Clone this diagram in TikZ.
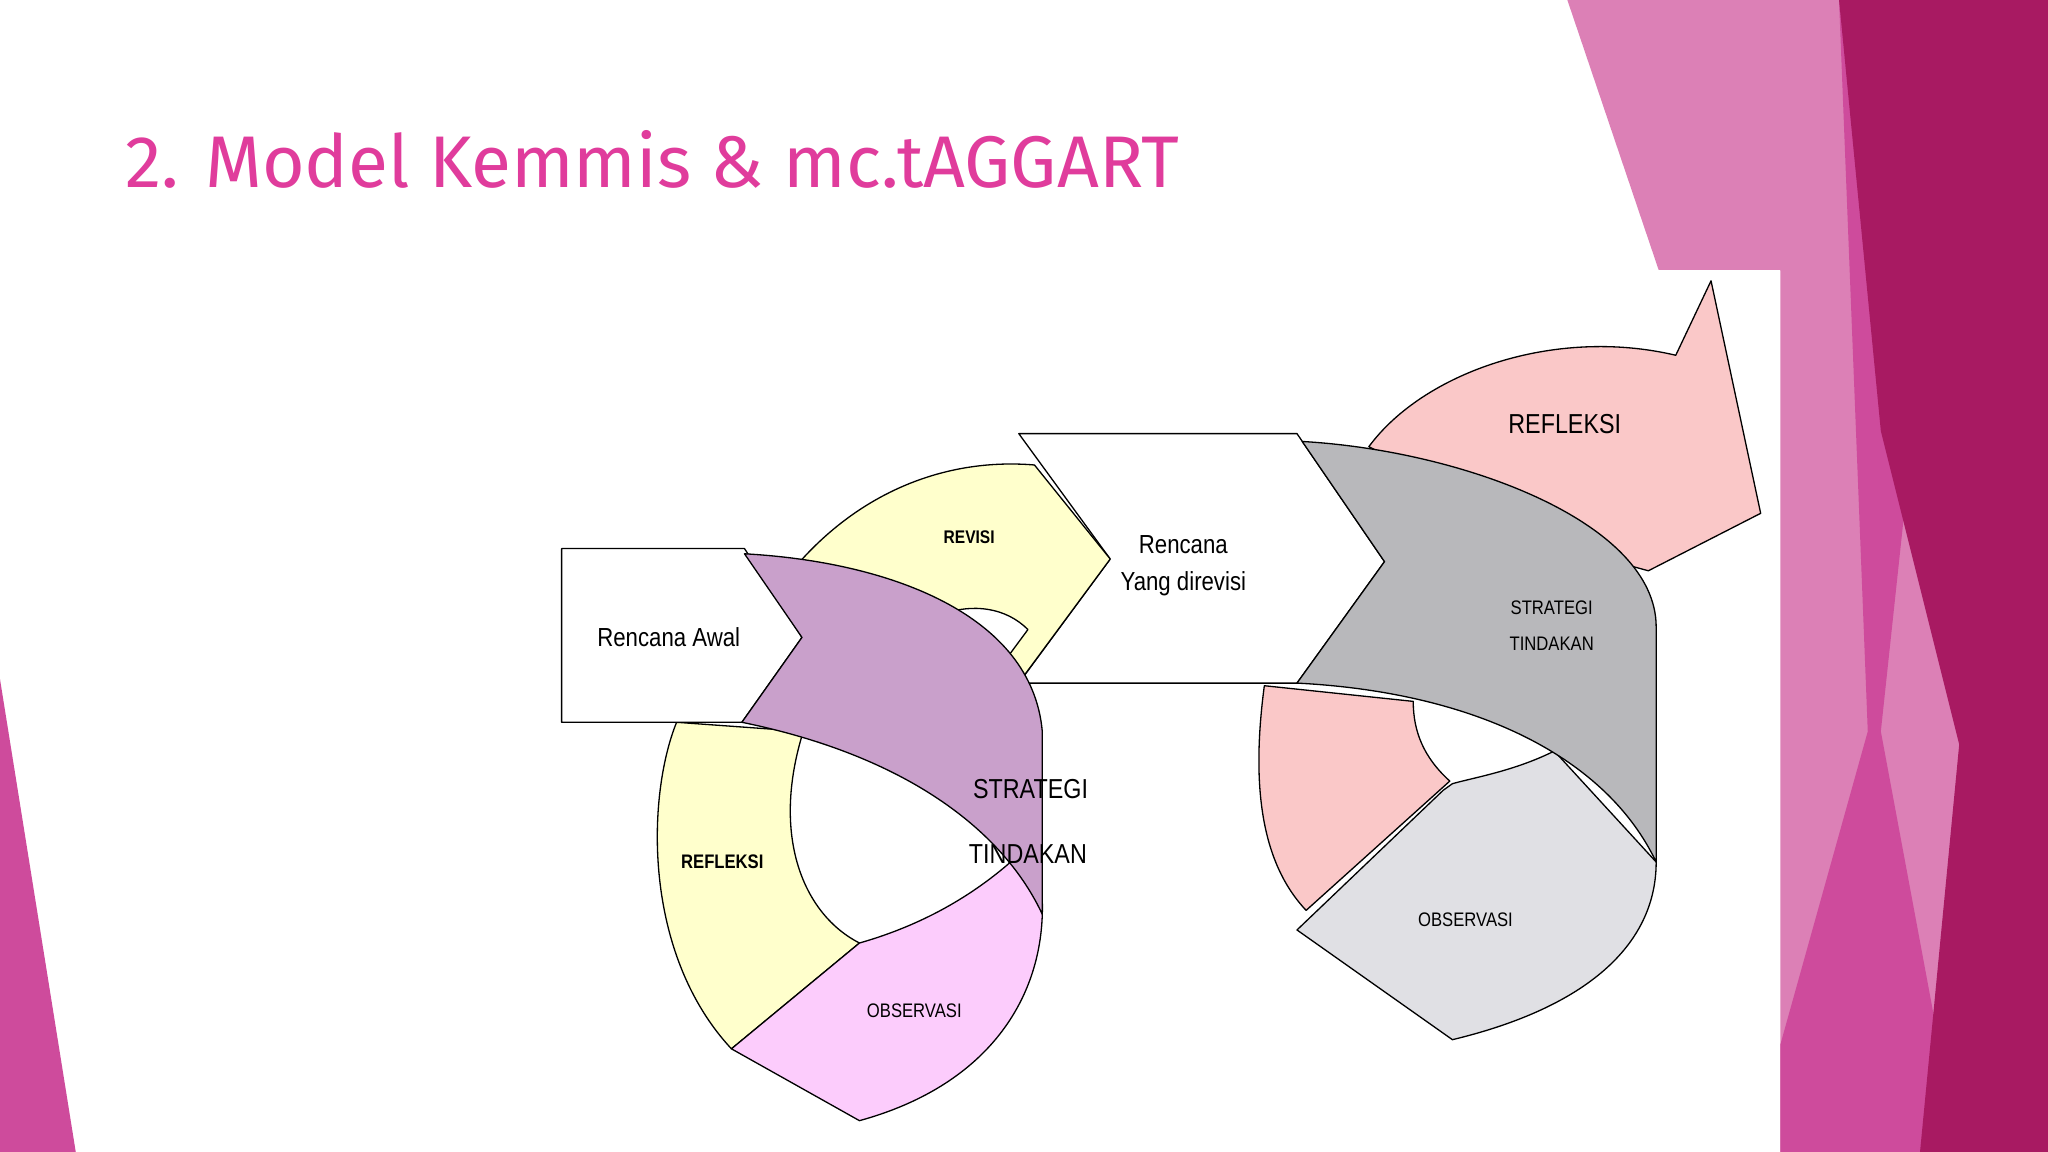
\documentclass[tikz,border=0pt]{standalone}
\usepackage{fontspec}
\setmainfont{Liberation Sans}
\newfontfamily\titlefont{Fira Sans}
\begin{document}
\begin{tikzpicture}[x=1pt,y=-1pt,
  shp/.style={draw=black,line width=1pt,line join=round},
  lbl/.style={font=\fontsize{15}{17}\selectfont,xscale=0.85,transform shape,inner sep=0},
  big/.style={font=\fontsize{21}{26}\selectfont,xscale=0.85,transform shape,inner sep=0}]
\definecolor{ttl}{HTML}{E03C9C}
\definecolor{lp}{HTML}{DC80B6}
\definecolor{mp}{HTML}{CE4B9C}
\definecolor{dp}{HTML}{A81A62}
\definecolor{yel}{HTML}{FFFFCC}
\definecolor{pur}{HTML}{C9A0CB}
\definecolor{pnk}{HTML}{FCCCFC}
\definecolor{salm}{HTML}{FAC8C8}
\definecolor{gry}{HTML}{B8B8BB}
\definecolor{lgry}{HTML}{E0E0E4}
\useasboundingbox (0,0) rectangle (1568,882);
\fill[white] (0,0) rectangle (1568,882);
% background decoration
\fill[lp] (1200,0) -- (1568,0) -- (1568,882) -- (1363,882) -- (1363,207) -- (1270,207) -- cycle;
\fill[mp] (1408,0) -- (1500,0) -- (1440,560) -- (1500,882) -- (1363,882) -- (1363,800) -- (1430,560) -- cycle;
\fill[dp] (1408,0) -- (1568,0) -- (1568,882) -- (1470,882) -- (1500,570) -- (1440,330) -- cycle;
\fill[mp] (0,520) -- (58,882) -- (0,882) -- cycle;
\fill[white] (1240,207) rectangle (1363,882);
\node[anchor=west,text=ttl,font=\titlefont\fontsize{56}{60}\selectfont,inner sep=0] (title) at (96,122) {2. Model Kemmis \& mc.tAGGART};
% ---------- left cycle ----------
\draw[shp,fill=white] (780,332) -- (993,332) -- (1060,430) -- (993,523) -- (780,523) -- (850,428) -- cycle;
\draw[shp,fill=yel] (600,445) .. controls (650,380) and (720,350) .. (792,356) -- (850,428) -- (782,520) -- (770,505) -- (787,482) .. controls (770,465) and (745,462) .. (722,470) -- cycle;
\draw[shp,fill=yel] (518,553) .. controls (495,610) and (492,730) .. (560,803) -- (658,722) .. controls (615,700) and (590,640) .. (615,560) -- cycle;
\draw[shp,fill=pnk] (560,803) -- (658,858) .. controls (760,830) and (800,760) .. (798,690) -- (776,658) .. controls (740,690) and (700,710) .. (658,722) -- cycle;
\draw[shp,fill=white] (430,420) -- (570,420) -- (614,488) -- (568,553) -- (430,553) -- cycle;
\draw[shp,fill=pur] (570,424) .. controls (680,430) and (790,470) .. (798,560) -- (798,700) .. controls (770,640) and (700,580) .. (568,553) -- (614,488) -- cycle;
\node[lbl,font=\bfseries\fontsize{14}{16}\selectfont] (revisi) at (742,411) {REVISI};
\node[lbl,font=\bfseries\fontsize{15}{17}\selectfont] (refl1) at (553,660) {REFLEKSI};
\node[lbl] (obs1) at (700,774) {OBSERVASI};
\node[big] (str1) at (789,604) {STRATEGI};
\node[big] (tin1) at (787,654) {TINDAKAN};
\node[big,font=\fontsize{20}{24}\selectfont] (awal) at (512,488) {Rencana Awal};
\node[big,font=\fontsize{20}{28}\selectfont,align=center] (rev) at (906,433) {Rencana\\Yang direvisi};
% ---------- right cycle ----------
\draw[shp,fill=salm] (1048,342) .. controls (1090,285) and (1190,250) .. (1283,272) -- (1310,215) -- (1348,393) -- (1262,437) -- (1200,420) -- cycle;
\draw[shp,fill=salm] (968,525) .. controls (958,600) and (965,660) .. (1000,697) -- (1110,598) .. controls (1090,580) and (1082,560) .. (1082,537) -- cycle;
\draw[shp,fill=lgry] (993,712) -- (1112,796) .. controls (1220,770) and (1268,720) .. (1268,660) -- (1190,575) .. controls (1160,590) and (1130,595) .. (1112,600) -- (1105,605) -- cycle;
\draw[shp,fill=gry] (997,338) .. controls (1120,345) and (1268,400) .. (1268,480) -- (1268,660) .. controls (1230,580) and (1130,530) .. (993,523) -- (1060,430) -- cycle;
\node[big] (refl2) at (1198,325) {REFLEKSI};
\node[lbl] (str2) at (1188,465) {STRATEGI};
\node[lbl] (tin2) at (1188,493) {TINDAKAN};
\node[lbl] (obs2) at (1122,704) {OBSERVASI};
\end{tikzpicture}
\end{document}
